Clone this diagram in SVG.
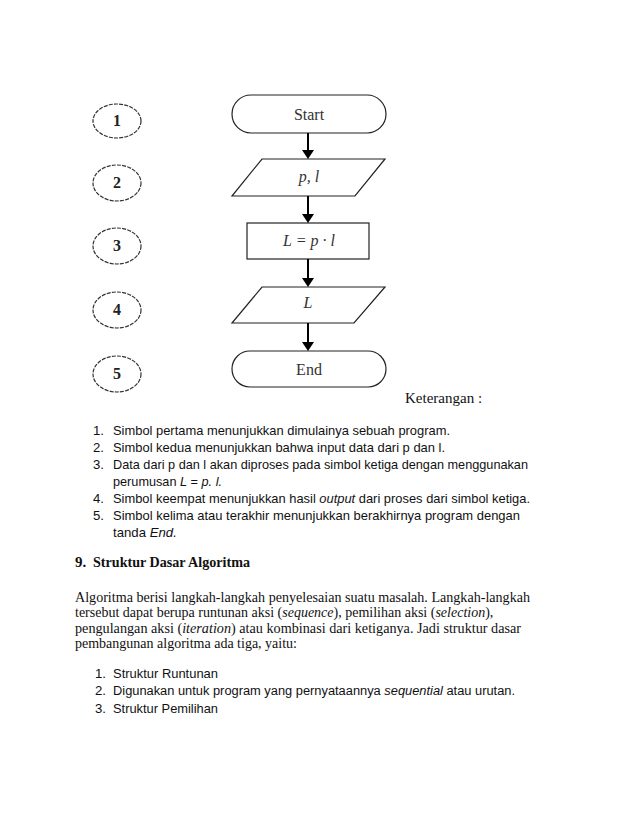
<svg xmlns="http://www.w3.org/2000/svg" width="638" height="826" viewBox="0 0 638 826">
<style>
.sh{fill:#fff;stroke:#222;stroke-width:1.2}
.circ{fill:#fff;stroke:#333;stroke-width:1.2;stroke-dasharray:4 1.2}
.num{font-family:"Liberation Serif",serif;font-weight:bold;font-size:16px;fill:#222;text-anchor:middle}
.lbl{font-family:"Liberation Serif",serif;font-size:16px;fill:#333;text-anchor:middle}
.it{font-style:italic}
.cal{font-family:"Liberation Sans",Arial,sans-serif;font-size:13.2px;fill:#111}
.tm{font-family:"Liberation Serif",serif;font-size:15px;fill:#111}
.conn{stroke:#000;stroke-width:2;fill:none}
</style>
<rect width="638" height="826" fill="#fff"/>
<g id="n1"><ellipse class="circ" cx="117" cy="121" rx="24" ry="17"/><text class="num" x="117" y="126">1</text></g>
<g id="n2"><ellipse class="circ" cx="117" cy="183" rx="24" ry="18"/><text class="num" x="117" y="188">2</text></g>
<g id="n3"><ellipse class="circ" cx="117" cy="246" rx="24" ry="18"/><text class="num" x="117" y="251">3</text></g>
<g id="n4"><ellipse class="circ" cx="117" cy="310" rx="24" ry="18"/><text class="num" x="117" y="315">4</text></g>
<g id="n5"><ellipse class="circ" cx="117" cy="374" rx="24" ry="18"/><text class="num" x="117" y="379">5</text></g>
<g id="start"><rect class="sh" x="232" y="95" width="154" height="38" rx="19"/><text class="lbl" x="309" y="120">Start</text></g>
<g id="input"><polygon class="sh" points="262,159 385,159 355,196 232,196"/><text class="lbl it" x="309" y="182">p, l</text></g>
<g id="process"><rect class="sh" x="247" y="223" width="122" height="36"/><text class="lbl it" x="309" y="246">L = p · l</text></g>
<g id="output"><polygon class="sh" points="262,287 385,287 354,323 232,323"/><text class="lbl it" x="308" y="308">L</text></g>
<g id="end"><rect class="sh" x="232" y="351" width="154" height="36" rx="18"/><text class="lbl" x="309" y="375">End</text></g>
<g id="connectors">
<line class="conn" x1="308" y1="133" x2="308" y2="152"/><path d="M302,150 L314,150 L308,159 Z" fill="#000"/>
<line class="conn" x1="308" y1="196" x2="308" y2="216"/><path d="M302,214 L314,214 L308,223 Z" fill="#000"/>
<line class="conn" x1="308" y1="259" x2="308" y2="280"/><path d="M302,278 L314,278 L308,287 Z" fill="#000"/>
<line class="conn" x1="308" y1="323" x2="308" y2="344"/><path d="M302,342 L314,342 L308,351 Z" fill="#000"/>
</g>
<text class="tm" x="405" y="403">Keterangan :</text>
<g class="cal">
<text x="93" y="435">1.</text><text x="113" y="435" textLength="337" lengthAdjust="spacingAndGlyphs">Simbol pertama menunjukkan dimulainya sebuah program.</text>
<text x="93" y="452">2.</text><text x="113" y="452" textLength="332" lengthAdjust="spacingAndGlyphs">Simbol kedua menunjukkan bahwa input data dari p dan l.</text>
<text x="93" y="469">3.</text><text x="113" y="469" textLength="415" lengthAdjust="spacingAndGlyphs">Data dari p dan l akan diproses pada simbol ketiga dengan menggunakan</text>
<text x="113" y="486" font-size="12.7">perumusan <tspan class="it">L</tspan> = <tspan class="it">p. l.</tspan></text>
<text x="93" y="503">4.</text><text x="113" y="503" font-size="12.9">Simbol keempat menunjukkan hasil <tspan class="it">output</tspan> dari proses dari simbol ketiga.</text>
<text x="93" y="520">5.</text><text x="113" y="520" textLength="407" lengthAdjust="spacingAndGlyphs">Simbol kelima atau terakhir menunjukkan berakhirnya program dengan</text>
<text x="113" y="537">tanda <tspan class="it">End.</tspan></text>
</g>
<text class="tm" x="75" y="567" font-weight="bold">9.</text>
<text class="tm" x="93" y="567" font-weight="bold" textLength="157" lengthAdjust="spacingAndGlyphs">Struktur Dasar Algoritma</text>
<g class="tm">
<text x="75" y="602" textLength="455" lengthAdjust="spacingAndGlyphs">Algoritma berisi langkah-langkah penyelesaian suatu masalah. Langkah-langkah</text>
<text x="75" y="617" font-size="14">tersebut dapat berupa runtunan aksi (<tspan class="it">sequence</tspan>), pemilihan aksi (<tspan class="it">selection</tspan>),</text>
<text x="75" y="633" font-size="14.2">pengulangan aksi (<tspan class="it">iteration</tspan>) atau kombinasi dari ketiganya. Jadi struktur dasar</text>
<text x="75" y="648" textLength="222" lengthAdjust="spacingAndGlyphs">pembangunan algoritma ada tiga, yaitu:</text>
</g>
<g class="cal">
<text x="95" y="678">1.</text><text x="113" y="678" textLength="105" lengthAdjust="spacingAndGlyphs">Struktur Runtunan</text>
<text x="95" y="695">2.</text><text x="113" y="695" font-size="12.85">Digunakan untuk program yang pernyataannya <tspan class="it">sequential</tspan> atau urutan.</text>
<text x="95" y="713">3.</text><text x="113" y="713" textLength="105" lengthAdjust="spacingAndGlyphs">Struktur Pemilihan</text>
</g>
</svg>
